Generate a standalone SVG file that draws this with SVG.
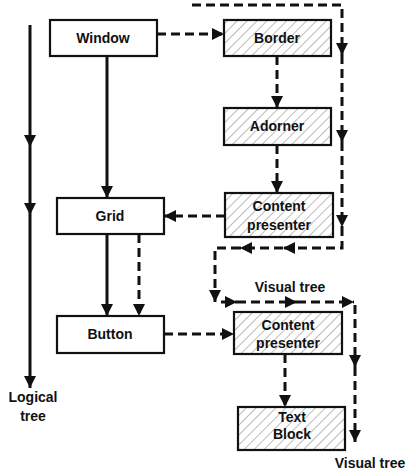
<svg xmlns="http://www.w3.org/2000/svg" width="416" height="476" viewBox="0 0 416 476">
<style>
.box{fill:#fff;stroke:#111;stroke-width:2.2}
.hbox{fill:url(#hatch);stroke:#111;stroke-width:2.2}
.lbl{font-family:"Liberation Sans",Arial,sans-serif;font-weight:bold;font-size:14px;fill:#111;text-anchor:middle;dominant-baseline:central}
.solid{fill:none;stroke:#111;stroke-width:3;marker-end:url(#arr)}
.dash{fill:none;stroke:#111;stroke-width:3;stroke-dasharray:9 5;marker-end:url(#arr)}
</style>
<defs>
<pattern id="hatch" width="7" height="7" patternUnits="userSpaceOnUse" patternTransform="rotate(45)">
<rect width="7" height="7" fill="#fff"/>
<line x1="0" y1="0" x2="0" y2="7" stroke="#b5b5b5" stroke-width="1.8"/>
</pattern>
<marker id="arr" markerUnits="userSpaceOnUse" markerWidth="14" markerHeight="14" refX="12" refY="7" orient="auto">
<path d="M0,1 L12,7 L0,13 Z" fill="#111"/>
</marker>
</defs>
<rect width="416" height="476" fill="#fff"/>
<g id="connectors">
<path class="solid" d="M30,25 V147"/>
<path class="solid" d="M30,147 V215"/>
<path class="solid" d="M30,215 V388"/>
<path class="dash" d="M157,34 H224"/>
<path class="solid" d="M107,56 V198"/>
<path class="dash" d="M277,56 V108"/>
<path class="dash" d="M277,145 V193"/>
<path class="dash" d="M225,216 H164"/>
<path class="solid" d="M107,234 V316"/>
<path class="dash" d="M139,234 V316"/>
<path class="dash" d="M164,334 H234"/>
<path class="dash" d="M285,354 V407"/>
<path class="dash" d="M192,5 H342 V55"/>
<path class="dash" d="M342,55 V142"/>
<path class="dash" d="M342,142 V227"/>
<path class="dash" d="M342,227 V248 H283"/>
<path class="dash" d="M283,248 H240"/>
<path class="dash" d="M240,248 H215 V302"/>
<path class="dash" d="M221,302 H237"/>
<path class="dash" d="M237,302 H297"/>
<path class="dash" d="M297,302 H354"/>
<path class="dash" d="M355,305 V367"/>
<path class="dash" d="M355,367 V442"/>
</g>
<g id="window"><rect class="box" x="50" y="20" width="107" height="36"/><text class="lbl" x="103" y="38">Window</text></g>
<g id="border"><rect class="hbox" x="224" y="20" width="107" height="36"/><text class="lbl" x="277" y="38">Border</text></g>
<g id="adorner"><rect class="hbox" x="224" y="108" width="107" height="37"/><text class="lbl" x="277" y="126">Adorner</text></g>
<g id="grid"><rect class="box" x="57" y="198" width="107" height="36"/><text class="lbl" x="110" y="216">Grid</text></g>
<g id="content-presenter-1"><rect class="hbox" x="225" y="193" width="108" height="44"/><text class="lbl" x="279" y="206">Content</text><text class="lbl" x="279" y="225">presenter</text></g>
<g id="button"><rect class="box" x="57" y="316" width="107" height="37"/><text class="lbl" x="110" y="334">Button</text></g>
<g id="content-presenter-2"><rect class="hbox" x="234" y="312" width="108" height="42"/><text class="lbl" x="288" y="325">Content</text><text class="lbl" x="288" y="343">presenter</text></g>
<g id="text-block"><rect class="hbox" x="238" y="407" width="107" height="43"/><text class="lbl" x="292" y="417">Text</text><text class="lbl" x="292" y="434">Block</text></g>
<g id="labels">
<text class="lbl" x="33" y="397">Logical</text>
<text class="lbl" x="33" y="416">tree</text>
<text class="lbl" x="290" y="287">Visual tree</text>
<text class="lbl" x="370" y="463">Visual tree</text>
</g>
</svg>
